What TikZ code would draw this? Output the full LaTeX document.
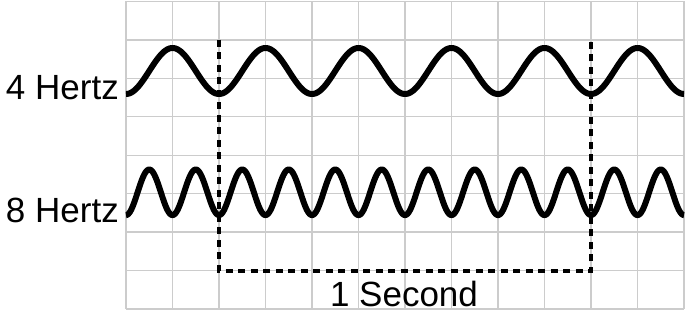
\documentclass[tikz,border=0pt]{standalone}
\usepackage{fontspec}
\setmainfont{Liberation Sans}
\begin{document}
\begin{tikzpicture}[x=1pt,y=1pt,
  gridline/.style={draw=black!20, line width=1.3pt},
  wave/.style={draw=black, line width=6pt, line join=round},
  bracket/.style={draw=black, line width=3.5pt, dash pattern=on 7pt off 5.5pt},
  lbl/.style={inner sep=0pt, font=\fontsize{35}{40}\selectfont}]
\useasboundingbox (0,0) rectangle (685,-320);
% grid
\foreach \i in {0,...,12} {
  \draw[gridline] ({126+46.5*\i},-1.5) -- ({126+46.5*\i},-309);
}
\foreach \j in {0,...,8} {
  \draw[gridline] (126,{-1.5-38.4375*\j}) -- (684,{-1.5-38.4375*\j});
}
% dashed bracket
\coordinate (tl) at (219,-40);
\coordinate (bl) at (219,-271);
\coordinate (br) at (591,-271);
\coordinate (tr) at (591,-40);
\draw[bracket] (tl) -- (bl) -- (br) -- (tr);
% waves
\draw[wave] plot[domain=126:684, samples=500, smooth] (\x, {-71-23*cos((\x-126)/93*360)});
\draw[wave] plot[domain=126:684, samples=700, smooth] (\x, {-192.3-22.8*cos((\x-126)/46.5*360)});
% labels
\node[lbl, anchor=base east] (four) at (119,-99.5) {4 Hertz};
\node[lbl, anchor=base east] (eight) at (119,-222.3) {8 Hertz};
\node[lbl, anchor=base] (sec) at (404,-306.7) {1 Second};
\end{tikzpicture}
\end{document}
